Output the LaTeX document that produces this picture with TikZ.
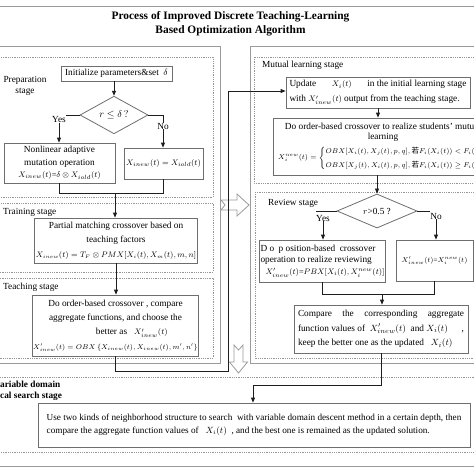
\documentclass[tikz,border=0pt]{standalone}
\usepackage{amsmath}
\usepackage{fontspec}
\setmainfont{Liberation Serif}
\newfontfamily\cjk{Noto Sans CJK SC}
\usetikzlibrary{shapes.geometric,arrows.meta}
\definecolor{panelc}{RGB}{155,155,155}
\definecolor{boxc}{RGB}{110,110,110}
\definecolor{dotc}{RGB}{150,150,150}
\definecolor{darkc}{RGB}{30,30,30}
\newcommand{\fml}[2][8.3]{{\fontsize{#1}{10}\selectfont$#2$}}
\begin{document}
\begin{tikzpicture}[x=1pt,y=-1pt,
  panel/.style={draw=panelc, line width=1pt},
  stagebox/.style={draw=dotc, line width=0.8pt, densely dotted},
  box/.style={draw=boxc, line width=0.8pt, fill=white, inner sep=1pt, align=center, font=\fontsize{9.3}{12}\selectfont},
  dia/.style={diamond, draw=boxc, line width=0.8pt, fill=white, inner sep=0pt, font=\fontsize{10}{11}\selectfont},
  lbl/.style={inner sep=0pt, font=\fontsize{9.3}{11}\selectfont},
  arr/.style={-{Triangle[length=5pt,width=4pt]}, line width=0.8pt, darkc},
  ln/.style={line width=0.8pt, darkc},
  hollow/.style={draw=panelc, line width=0.8pt, fill=white}]
\useasboundingbox (0,0) rectangle (474,474);
% outer frame
\draw[panel] (-5,6) rectangle (480,466);
% title
\node[font=\bfseries\fontsize{11.4}{14}\selectfont, align=center] (title) at (230.5,24) {Process of Improved Discrete Teaching-Learning\\Based Optimization Algorithm};
% panels
\draw[panel] (-5,46) rectangle (220,363);
\draw[panel] (250,46) rectangle (480,363);
\draw[stagebox] (-5,57) rectangle (213,197);
\draw[stagebox] (-5,203) rectangle (213,272);
\draw[stagebox] (-5,278) rectangle (213,358);
\draw[stagebox] (254,57) rectangle (480,183);
\draw[stagebox] (255,192) rectangle (480,358);
\draw[stagebox] (-5,377) rectangle (480,452);
% stage labels
\node[lbl, align=center] (prepL) at (25,85.5) {Preparation\\stage};
\node[lbl, anchor=west] (trainL) at (3,212) {Training stage};
\node[lbl, anchor=west] (teachL) at (3,287) {Teaching stage};
\node[lbl, anchor=west] (mutL) at (262,65) {Mutual learning stage};
\node[lbl, anchor=west] (revL) at (268,203) {Review stage};
\node[lbl, anchor=west, align=left, font=\bfseries\fontsize{9.3}{11}\selectfont] (vndL) at (0,390.5) {ariable domain\\cal search stage};
% hollow arrows
\draw[hollow] (221,200) -- (237,200) -- (237,194) -- (249,205) -- (237,216) -- (237,210) -- (221,210) -- (225,205) -- cycle;
\draw[hollow] (234,345) -- (238.5,350) -- (243,345) -- (243,362) -- (247.5,362) -- (238.5,373) -- (229.5,362) -- (234,362) -- cycle;
% left panel nodes
\node[box, minimum width=111pt, minimum height=15pt] (init) at (116.5,73.5) {Initialize parameters\&set \ $\delta$};
\node[dia, minimum width=68pt, minimum height=30pt] (d1) at (114,115) {$r\le\delta\,?$};
\node[box, minimum width=111pt, minimum height=40pt, font=\fontsize{9.3}{12.5}\selectfont] (nonlin) at (59.5,163) {Nonlinear adaptive\\mutation operation\\\fml{X_{inew}(t)\text{=}\delta\otimes X_{iold}(t)}};
\node[box, minimum width=79pt, minimum height=31pt] (keep) at (163.5,163.5) {\fml{X_{inew}(t)=X_{iold}(t)}};
\node[lbl] (yes1) at (59,119.5) {Yes};
\node[lbl] (no1) at (163,126) {No};
\node[box, minimum width=154pt, minimum height=45pt, font=\fontsize{9.3}{14.5}\selectfont] (pmx) at (116,240.5) {Partial matching crossover based on\\teaching factors\\\fml[7.8]{X_{inew}(t)=T_F\otimes PMX[X_i(t),X_m(t),m,n]}};
\node[box, minimum width=155pt, minimum height=61pt, font=\fontsize{9.3}{14.3}\selectfont] (obx) at (115.5,325.5) {Do order-based crossover , compare\\aggregate functions, and choose the\\\hspace*{3.5em}better as \ \ \fml{X'_{inew}(t)}\\\fml[7.4]{X'_{inew}(t)=OBX\,\{X_{inew}(t),X_{inew}(t),m',n'\}}};
% left connectors
\draw[arr] (d1.north |- init.south) -- (d1.north);
\draw[ln] (d1.west) -- (d1.west -| yes1.east);
\draw[arr] (yes1.south) -- (yes1.south |- nonlin.north);
\draw[ln] (d1.east) -| (no1.north);
\draw[arr] (no1.south) -- (no1.south |- keep.north);
\coordinate (m1) at (115,193);
\draw[ln] (nonlin.south) |- (keep.south |- m1) -- (keep.south);
\draw[arr] (m1) -- (m1 |- pmx.north);
\draw[arr] (pmx.south) -- (pmx.south |- obx.north);
% right panel nodes
\node[box, minimum width=184pt, minimum height=31pt, align=left, font=\fontsize{9.3}{15}\selectfont] (upd) at (378,92.5) {\hbox to 177pt{Update\hfill \fml{X_i(t)}\hfill in the initial learning stage}\\with \fml{X'_{inew}(t)} output from the teaching stage.};
\node[box, minimum width=220pt, minimum height=57pt] (mut) at (383,146.5) {};
\node[lbl, align=center, font=\fontsize{9.3}{10}\selectfont] (mutT) at (383,132) {Do order-based crossover to realize students' mutual\\learning};
\node[lbl, anchor=west, font=\fontsize{7.5}{9}\selectfont] (mutF) at (278,158) {$X_i^{new}(t)=\begin{cases}OBX[X_i(t),X_j(t),p,q],\mbox{\cjk 若}F_i(X_i(t))<F_i(X_j(t))\\[3pt] OBX[X_j(t),X_i(t),p,q],\mbox{\cjk 若}F_i(X_i(t))\ge F_i(X_j(t))\end{cases}$};
\node[dia, minimum width=80pt, minimum height=25pt, font=\fontsize{9.3}{10}\selectfont] (d2) at (377,211) {$r$>0.5 ?};
\node[lbl] (yes2) at (323,218) {Yes};
\node[lbl] (no2) at (436,216) {No};
\node[box, minimum width=121pt, minimum height=42pt, align=left, font=\fontsize{9.3}{11.5}\selectfont] (pbx) at (322.5,261) {\hbox to 115pt{D o\hfill p osition-based\hfill crossover}\\operation to realize reviewing\\\hspace*{5pt}\fml{X'_{inew}(t)\text{=}PBX[X_i(t),X_i^{new}(t)]}};
\node[box, minimum width=77pt, minimum height=41pt, font=\fontsize{7}{8}\selectfont] (rbox) at (434.5,260.5) {$X'_{inew}(t)$=$X_i^{new}(t)$};
\node[box, minimum width=174pt, minimum height=48pt, align=left, font=\fontsize{9.3}{14.5}\selectfont] (cmp) at (381,329) {\hbox to 166pt{Compare\hfill the\hfill corresponding\hfill aggregate}\\\hbox to 166pt{function values of \ $X'_{inew}(t)$ \ and $X_i(t)$\hfill ,}\\keep the better one as the updated \ \ $X_i(t)$};
\node[box, minimum width=432pt, minimum height=44pt, align=left, font=\fontsize{9.2}{13}\selectfont] (vnd) at (254,425) {Use two kinds of neighborhood structure to search\ \ with variable domain descent method in a certain depth, then\\compare the aggregate function values of \ \ $X_i(t)$ \ , and the best one is remained as the updated solution.};
% right connectors
\draw[arr] (mut.south -| d2.north) -- (d2.north);
\draw[arr] (upd.south) -- (upd.south |- mut.north);
\draw[ln] (d2.west) -- (yes2.west |- d2.west);
\draw[arr] (yes2.south) -- (yes2.south |- pbx.north);
\draw[ln] (d2.east) -- (no2.west |- d2.east);
\draw[arr] (no2.south) -- (no2.south |- rbox.north);
\coordinate (m2) at (382,294);
\draw[ln] (pbx.south) |- (rbox.south |- m2) -- (rbox.south);
\draw[arr] (m2) -- (m2 |- cmp.north);
% long dark connectors
\coordinate (c1) at (228,371);
\coordinate (c2) at (228,91);
\draw[arr] (obx.south) |- (c1) -- (c2) -- (c2 -| upd.west);
\coordinate (c3) at (253,385);
\draw[arr] (cmp.south) |- (c3) -- (c3 |- vnd.north);
\end{tikzpicture}
\end{document}
